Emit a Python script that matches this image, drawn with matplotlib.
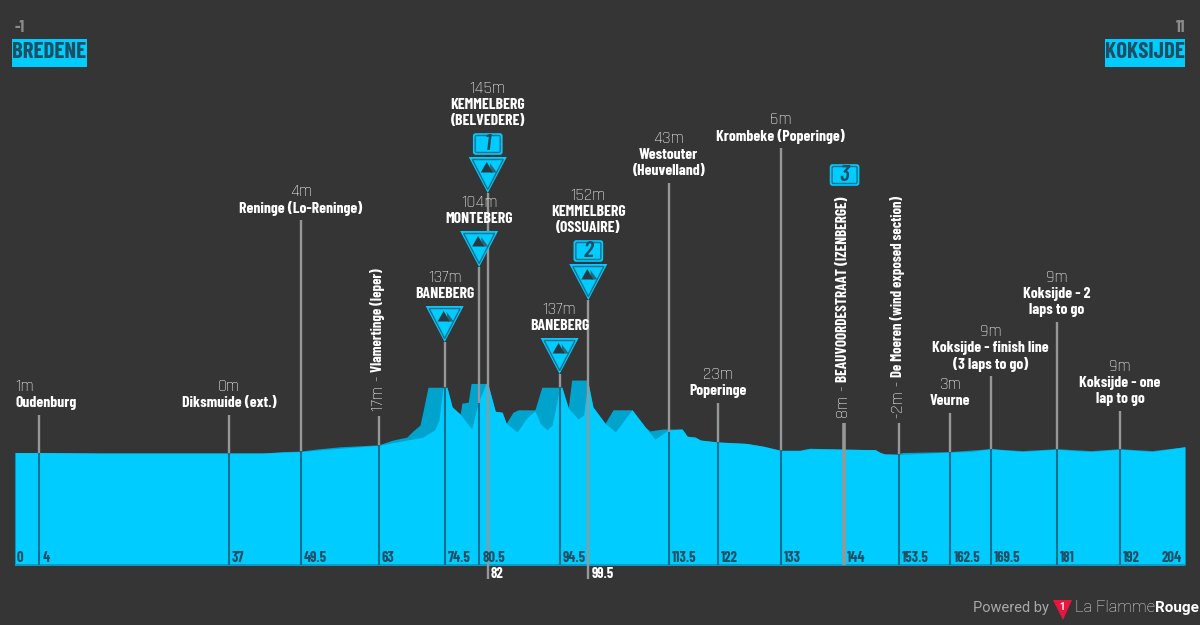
import matplotlib
matplotlib.use("Agg")
import matplotlib.pyplot as plt
from matplotlib.patches import Polygon, FancyBboxPatch, Rectangle
from matplotlib.transforms import Affine2D, blended_transform_factory

BG = "#353535"
BLUE = "#00ccff"
SHADE = "#00a3cc"
DARK = "#1d4f63"
INLINE = "#13708c"
GREY = "#979797"
WHITE = "#ffffff"
NARROW = ["Barlow Condensed", "Roboto", "DejaVu Sans"]
LIGHT = ["Rajdhani", "Roboto", "DejaVu Sans"]
PLAIN = ["Roboto", "DejaVu Sans"]

# elevation outline, km / metres
back_km = [-0.25, 4, 14, 25, 37, 43, 46.3, 49.5, 52, 56.3, 63, 65.5, 67.9, 69, 70.2, 70.7, 71.6, 74.9, 75.8, 77.2, 77.5,
           78.6, 79.1, 82, 83.3, 84.5, 85.2, 86.4, 87.3, 90.2, 91.4, 94.9, 96, 96.6, 99.4, 100.3, 102.4, 103.8, 107.1,
           109.4, 110.2, 112.5, 115.8, 116.7, 118.1, 119, 122, 127, 130, 133, 136.3, 138, 144, 149.4, 150.3, 151.1,
           153.5, 154, 162.5, 169.5, 175, 181, 187, 192, 197.6, 203.3]
back_m = [1, 1, 0, 0, 0, 0, 3, 4, 8, 13, 17, 27, 33, 46, 58, 85, 137, 137, 96, 81, 104,
          106, 145, 145, 87, 85, 62, 85, 90, 90, 137, 137, 94, 152, 152, 96, 62, 90, 90,
          54, 46, 50, 50, 35, 33, 27, 23, 20, 14, 6, 6, 10, 8, 7, 1, -2,
          -2, 1, 3, 9, 5, 9, 5, 9, 5, 13]
front_km = [-0.25, 4, 14, 25, 37, 43, 49.5, 56.3, 63, 67.9, 70.7, 72.8, 73.5, 74.2, 74.9, 75.8, 77.2, 79.2, 80.3, 81.7,
            82, 83.3, 84.5, 85.2, 87.1, 88.8, 90.2, 91.1, 92.3, 93.2, 94, 94.5, 94.9, 96, 97.7, 98.7, 99.4, 100.3, 102.4,
            104.2, 106.4, 107.1, 109.4, 111.1, 113.4, 115.8, 116.7, 118.1, 119, 122, 127, 130, 133, 136.3, 138, 144,
            149.4, 150.3, 151.1, 153.5, 162.5, 166, 169.5, 175, 181, 184, 187, 192, 197.6, 203.3]
front_m = [1, 1, 0, 0, 0, 0, 3, 10, 16, 27, 33, 49, 69, 135, 137, 96, 81, 50, 104, 145,
           145, 87, 85, 62, 44, 73, 88, 62, 48, 58, 104, 137, 137, 94, 71, 79, 148, 96, 62,
           44, 79, 90, 54, 29, 48, 50, 35, 33, 27, 23, 20, 14, 5, 5, 9, 8,
           7, 1, -2, -3, 2, 3, 9, 3, 8, 5, 3, 8, 3, 13]

# named points: km, elevation, name
place_km = [4, 37, 49.5, 63, 74.5, 80.5, 82, 94.5, 99.5, 113.5, 122, 133, 144, 153.5, 162.5, 169.5, 181, 192]
place_m = [1, 0, 4, 17, 137, 104, 145, 137, 152, 43, 23, 6, 8, -2, 3, 9, 9, 9]
place_name = ["Oudenburg", "Diksmuide (ext.)", "Reninge (Lo-Reninge)", "Vlamertinge (Ieper)", "BANEBERG", "MONTEBERG",
              "KEMMELBERG\n(BELVEDERE)", "BANEBERG", "KEMMELBERG\n(OSSUAIRE)", "Westouter\n(Heuvelland)", "Poperinge",
              "Krombeke (Poperinge)", "BEAUVOORDESTRAAT (IZENBERGE)", "De Moeren (wind exposed section)", "Veurne",
              "Koksijde - finish line\n(3 laps to go)", "Koksijde - 2\nlaps to go", "Koksijde - one\nlap to go"]
km_labels = ["4", "37", "49.5", "63", "74.5", "80.5", "82", "94.5", "99.5", "113.5", "122", "133", "144", "153.5",
             "162.5", "169.5", "181", "192"]

# layout: pixel row where each pole starts, and which poles carry something extra
pole_top = [415, 415, 220, 416, 342, 267, 193, 374, 300, 183, 403, 148, 423, 423, 413, 376, 322, 411]
vertical = {3: 10.5, 12: 11, 13: 10.5}
climbs = {4: None, 5: None, 6: "1", 7: None, 8: "2"}
sector_poles = {6, 8, 12}
low_km_label = {6, 8}

BASE_M = -233

fig = plt.figure(figsize=(12, 6.25), dpi=100, facecolor=BG)
ax = fig.add_axes([0, 0, 1, 1])
ax.set_xlim(-2.871, 205.93)
ax.set_ylim(-358.3, 943.75)
ax.axis("off")
renderer = fig.canvas.get_renderer()

pix = Affine2D().scale(1, -1).translate(0, 625)
kmpix = blended_transform_factory(ax.transData, pix)


def to_px(km):
    return ax.transData.transform((km, 0))[0]


def badge(x, top, num):
    ax.add_patch(FancyBboxPatch((x - 14, top + 1), 28, 20, boxstyle="round,pad=0,rounding_size=2", fc=BLUE, ec=BLUE,
                                lw=1.2, transform=pix, zorder=6))
    ax.add_patch(FancyBboxPatch((x - 12.5, top + 2.5), 25, 17, boxstyle="round,pad=0,rounding_size=1.5", fc=BLUE,
                                ec=INLINE, lw=1, transform=pix, zorder=6))
    ax.text(x, top + 11, num, transform=pix, ha="center", va="center", color=DARK, fontsize=17, style="italic",
            weight="semibold", family=NARROW, zorder=7)


def climb_icon(x, tip):
    top = tip - 36
    ax.add_patch(Polygon([(x - 19, top), (x + 19, top), (x, tip)], fc=BLUE, ec="none", transform=pix, zorder=6))
    ax.add_patch(Polygon([(x - 15.5, top + 2.5), (x + 15.5, top + 2.5), (x, tip - 3.5)], fc=BLUE, ec=INLINE, lw=1,
                         transform=pix, zorder=6))
    ax.add_patch(Polygon([(x + 2, top + 6), (x + 9, top + 15.5), (x + 3, top + 15.5)], fc="#2a6478", ec="none",
                         transform=pix, zorder=7))
    ax.add_patch(Polygon([(x - 1, top + 5), (x + 5, top + 15.5), (x - 7, top + 15.5)], fc="#263a42", ec="none",
                         transform=pix, zorder=7))


# profile, darker ridge behind and bright face in front
ax.fill_between(back_km, back_m, BASE_M, color=SHADE, lw=0, zorder=1)
ax.fill_between(front_km, front_m, BASE_M, color=BLUE, lw=0, zorder=2)
ax.plot([back_km[0], back_km[-1]], [BASE_M, BASE_M], color="#109ac0", lw=1.4, zorder=3, solid_capstyle="butt")

for i, km in enumerate(place_km):
    top = pole_top[i]
    elev = place_m[i]
    if i in sector_poles:
        ax.plot([km, km], [top, 579 if i in low_km_label else 565], color=GREY, lw=1.7 if i != 12 else 2.6,
                transform=kmpix, zorder=4, solid_capstyle="butt")
    else:
        ax.plot([km, km], [top, 565], color=INLINE, lw=1.5, transform=kmpix, zorder=3, solid_capstyle="butt")
        y0 = ax.transData.transform((km, elev))[1]
        ax.plot([km, km], [top, 625 - y0], color=GREY, lw=1.7, transform=kmpix, zorder=4, solid_capstyle="butt")

    # km marker at the foot of the pole
    if i in low_km_label:
        ax.text(to_px(km) + 3, 574, km_labels[i], transform=pix, color=WHITE, fontsize=10.5, weight="bold", family=NARROW,
                va="center", zorder=5)
    else:
        ax.text(to_px(km) + 3, 557.5, km_labels[i], transform=pix, color=DARK, fontsize=10.5, weight="bold", family=NARROW,
                va="center", zorder=5)

    # name and height above the pole
    x = to_px(km)
    if i in vertical:
        h = ax.text(x - 1, top - 5, "%dm -" % elev, rotation=90, transform=pix, color="#f2f2f2", fontsize=12.5,
                    family=LIGHT, weight="light", ha="center", va="bottom", zorder=5)
        used = h.get_window_extent(renderer).height
        ax.text(x - 1, top - 9 - used, place_name[i], rotation=90, transform=pix, color=WHITE, fontsize=vertical[i],
                weight="bold", family=NARROW, ha="center", va="bottom", zorder=5)
        continue
    lines = place_name[i].split("\n")
    bottom = top
    if i in climbs:
        climb_icon(x, top)
        bottom = top - 36
        if climbs[i]:
            badge(x, bottom - 24, climbs[i])
            bottom -= 24
    cx = x
    hx = x
    ha = "center"
    if i == 0:
        cx, hx, ha = 15, 15, "left"
    y = bottom - 12 - 16.3 * (len(lines) - 1)
    for j, line in enumerate(lines):
        ax.text(cx, y + 16.3 * j, line, transform=pix, color=WHITE, fontsize=11.3, weight="bold", family=NARROW, ha=ha,
                va="center", zorder=5)
    ax.text(hx, y - 17, "%dm" % elev, transform=pix, color="#f2f2f2", fontsize=12.5, family=LIGHT, weight="light", ha=ha,
            va="center", zorder=5)

# start and finish km markers
ax.text(to_px(0) + 0.5, 557.5, "0", transform=pix, color=DARK, fontsize=10.5, weight="bold", family=NARROW, va="center",
        zorder=5)
ax.text(to_px(204) - 7, 557.5, "204", transform=pix, color=DARK, fontsize=10.5, weight="bold", family=NARROW, ha="right",
        va="center", zorder=5)

# third sector badge has no climb icon below it
badge(to_px(144) + 0.5, 164, "3")

# start and finish headers
ax.add_patch(Rectangle((12, 39), 75, 28, fc=BLUE, ec="none", transform=pix))
ax.text(49.5, 52.5, "BREDENE", transform=pix, color=DARK, fontsize=16.5, weight="bold", family=NARROW, ha="center",
        va="center")
ax.text(15, 28, "-1", transform=pix, color="#8c8c8c", fontsize=12, weight="bold", family=NARROW, va="center")
ax.add_patch(Rectangle((1105, 39), 80, 28, fc=BLUE, ec="none", transform=pix))
ax.text(1145, 52.5, "KOKSIJDE", transform=pix, color=DARK, fontsize=16.5, weight="bold", family=NARROW, ha="center",
        va="center")
ax.text(1185, 28, "11", transform=pix, color="#8c8c8c", fontsize=12, weight="bold", family=NARROW, ha="right",
        va="center")

# footer logo
ax.text(973, 608, "Powered by", transform=pix, color="#a8a8a8", fontsize=10.5, family=PLAIN, va="center")
ax.add_patch(Polygon([(1053, 600), (1072, 600), (1063, 620)], fc="#e5173f", ec="none", transform=pix))
ax.text(1062.5, 607, "1", transform=pix, color=WHITE, fontsize=7, weight="bold", family=PLAIN, ha="center", va="center")
brand = ax.text(1075, 608, "La Flamme", transform=pix, color="#e6e6e6", fontsize=11.8, family=PLAIN, weight="light",
                va="center")
ax.text(1075 + brand.get_window_extent(renderer).width, 608, "Rouge", transform=pix, color=WHITE, fontsize=11,
        family=PLAIN, weight="bold", va="center")

fig.savefig("out.png", dpi=100, facecolor=BG)
